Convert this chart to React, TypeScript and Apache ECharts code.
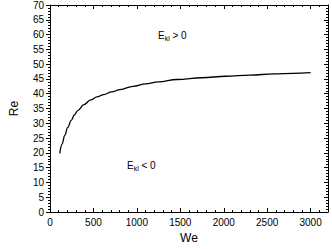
import React, { useEffect, useRef } from "react";
import * as echarts from "echarts";

const weValues = [112, 140, 169, 205, 244, 280, 319, 390, 469, 540, 618, 710, 806, 956, 1100, 1250, 1461, 1750, 2023, 2300, 2584, 2800, 3000];
const reValues = [19.8, 23.0, 25.9, 28.6, 31.0, 32.8, 34.3, 36.3, 37.9, 38.9, 39.7, 40.6, 41.4, 42.5, 43.3, 44.0, 44.8, 45.4, 45.9, 46.3, 46.7, 46.9, 47.1];
const xAxisName = "We";
const yAxisName = "Re";
const upperLabel = { main: "E", sub: "kl", rest: " > 0" };
const lowerLabel = { main: "E", sub: "kl", rest: " < 0" };

const FONT = "Liberation Sans, Arial, sans-serif";

export default function App() {
  const ref = useRef<HTMLDivElement>(null);
  useEffect(() => {
    document.body.style.margin = "0";
    const chart = echarts.init(ref.current!, null, { renderer: "svg" });
    const axisLineStyle = { color: "#000", width: 1 };
    const richStyle = {
      m: { fontSize: 10, fontFamily: FONT, fill: "#000" },
      s: { fontSize: 7, fontFamily: FONT, fill: "#000", padding: [6, 0, 0, 0] },
    };
    const fmt = (v: number) => String(v);
    chart.setOption({
      animation: false,
      backgroundColor: "#fff",
      grid: { left: 43, right: 4, top: 4, bottom: 37, containLabel: false },
      xAxis: [
        {
          type: "value",
          min: 0,
          max: 3200,
          interval: 500,
          name: xAxisName,
          nameLocation: "middle",
          nameGap: 19,
          nameTextStyle: { fontSize: 12, fontFamily: FONT, color: "#000" },
          axisLine: { show: true, onZero: false, lineStyle: axisLineStyle },
          axisTick: { show: true, inside: true, length: 4, lineStyle: axisLineStyle },
          minorTick: { show: true, splitNumber: 5, length: 2, lineStyle: { color: "#000", width: 1 } },
          axisLabel: { fontSize: 10, fontFamily: FONT, color: "#000", margin: 5, showMaxLabel: false, formatter: fmt },
          splitLine: { show: false },
        },
        {
          type: "value",
          position: "top",
          min: 0,
          max: 3200,
          interval: 500,
          axisLine: { show: true, onZero: false, lineStyle: axisLineStyle },
          axisTick: { show: true, inside: true, length: 4, lineStyle: axisLineStyle },
          minorTick: { show: true, splitNumber: 5, length: 2, lineStyle: { color: "#000", width: 1 } },
          axisLabel: { show: false },
          splitLine: { show: false },
        },
      ],
      yAxis: [
        {
          type: "value",
          min: 0,
          max: 70,
          interval: 5,
          name: yAxisName,
          nameLocation: "middle",
          nameGap: 30,
          nameRotate: 90,
          nameTextStyle: { fontSize: 12, fontFamily: FONT, color: "#000" },
          axisLine: { show: true, onZero: false, lineStyle: axisLineStyle },
          axisTick: { show: true, inside: false, length: 4, lineStyle: axisLineStyle },
          minorTick: { show: true, splitNumber: 5, length: 2, lineStyle: { color: "#000", width: 1 } },
          axisLabel: { fontSize: 10, fontFamily: FONT, color: "#000", margin: 6, formatter: fmt },
          splitLine: { show: false },
        },
        {
          type: "value",
          position: "right",
          min: 0,
          max: 70,
          interval: 5,
          axisLine: { show: true, onZero: false, lineStyle: axisLineStyle },
          axisTick: { show: true, inside: true, length: 4, lineStyle: axisLineStyle },
          minorTick: { show: true, splitNumber: 5, length: 2, lineStyle: { color: "#000", width: 1 } },
          axisLabel: { show: false },
          splitLine: { show: false },
        },
      ],
      series: [
        {
          type: "line",
          data: weValues.map((w, i) => [w, reValues[i]]),
          smooth: 0.4,
          smoothMonotone: "x",
          showSymbol: false,
          lineStyle: { color: "#000", width: 1.3 },
          xAxisIndex: 0,
          yAxisIndex: 0,
        },
      ],
      graphic: [
        {
          type: "text",
          x: 158,
          y: 29,
          style: {
            text: `{m|${upperLabel.main}}{s|${upperLabel.sub}}{m|${upperLabel.rest}}`,
            rich: richStyle,
            fill: "#000",
          },
        },
        {
          type: "text",
          x: 127,
          y: 159,
          style: {
            text: `{m|${lowerLabel.main}}{s|${lowerLabel.sub}}{m|${lowerLabel.rest}}`,
            rich: richStyle,
            fill: "#000",
          },
        },
      ],
    });
    return () => chart.dispose();
  }, []);
  return <div ref={ref} style={{ width: 332, height: 249 }} />;
}
